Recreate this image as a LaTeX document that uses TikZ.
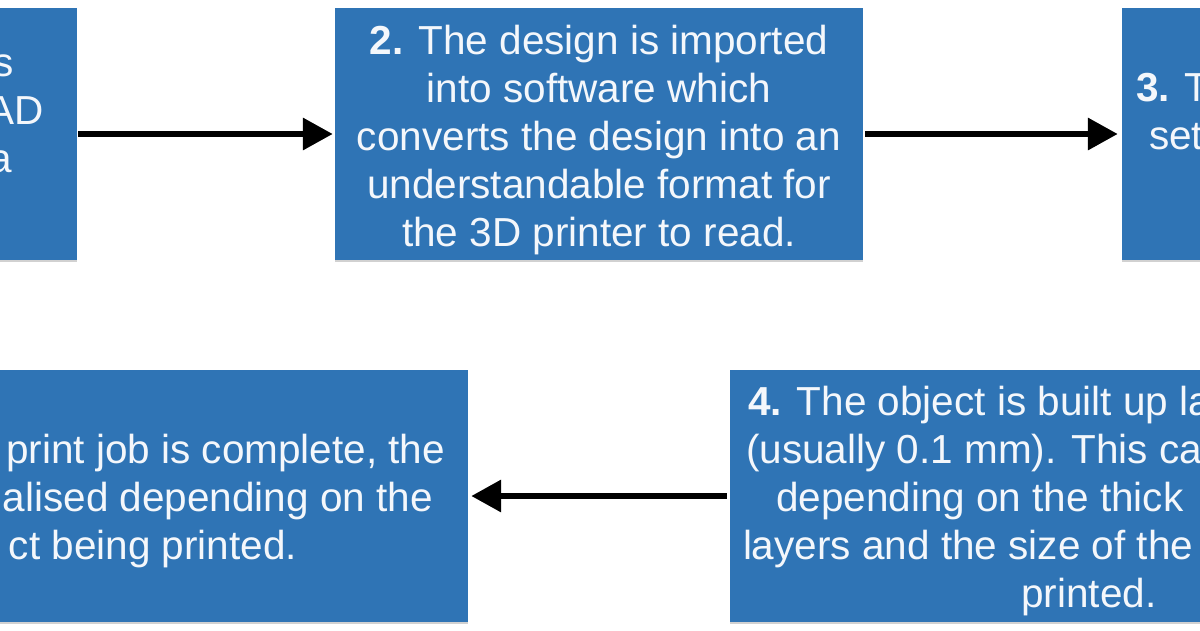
\documentclass[tikz,border=0pt]{standalone}
\usepackage{fontspec}
\setmainfont{Liberation Sans}
\usetikzlibrary{arrows.meta,shadows}
\definecolor{boxblue}{HTML}{2F74B5}
\definecolor{txtwhite}{HTML}{F4F7FB}
\newcommand{\slidefont}{\fontsize{40.5}{48}\selectfont}
\tikzset{
  box/.style={rectangle, fill=boxblue, draw=none, minimum width=528pt, minimum height=252pt, inner sep=0pt,
    drop shadow={shadow xshift=0pt, shadow yshift=-2pt, fill=black, opacity=0.18}},
  widebox/.style={box, minimum width=722pt},
  txt/.style={text=txtwhite, font=\slidefont, inner sep=0pt, outer sep=0pt},
  arr/.style={draw=black, line width=6.5pt, -{Triangle[length=30pt, width=31pt]}}
}
\begin{document}
\begin{tikzpicture}[x=1pt, y=-1pt]
\useasboundingbox (0,0) rectangle (1200,630);
\clip (0,0) rectangle (1200,630);
\fill[white] (0,0) rectangle (1200,630);
% boxes
\node[box] (b1) at (-187,134) {};
\node[box] (b2) at (599,134) {};
\node[box] (b3) at (1386,134) {};
\node[widebox] (b4) at (1091,496) {};
\node[widebox] (b5) at (107,496) {};
% arrows
\draw[arr, shorten <=1pt, shorten >=2pt] (b1.east) -- (b2.west);
\draw[arr, shorten <=2pt, shorten >=4pt] (b2.east) -- (b3.west);
\draw[arr, shorten <=3pt, shorten >=3pt] (b4.west) -- (b5.east);
% box 1 (cut at left edge)
\node[txt, anchor=base east] (t11) at (14,76) {s};
\node[txt, anchor=base east] (t12) at (44,124) {AD};
\node[txt, anchor=base east] (t13) at (12,172) {a};
% box 2
\node[txt, anchor=base] (t21) at (599,54) {\textbf{2.} The design is imported};
\node[txt, anchor=base] (t22) at (599,102) {into software which};
\node[txt, anchor=base] (t23) at (599,150) {converts the design into an};
\node[txt, anchor=base] (t24) at (599,198) {understandable format for};
\node[txt, anchor=base] (t25) at (599,246) {the 3D printer to read.};
% box 3 (cut at right edge)
\node[txt, anchor=base west] (t31) at (1136,101) {\textbf{3.} T};
\node[txt, anchor=base west] (t32) at (1149,149) {set};
% box 4 (cut at right edge)
\node[txt, anchor=base west] (t41) at (748,415) {\textbf{4.} The object is built up la};
\node[txt, anchor=base west] (t42) at (746,463) {(usually 0.1 mm). This ca};
\node[txt, anchor=base west] (t43) at (776,511) {depending on the thick};
\node[txt, anchor=base west] (t44) at (743,559) {layers and the size of the};
\node[txt, anchor=base] (t45) at (1089,607) {printed.};
% box 5 (cut at left edge)
\node[txt, anchor=base east] (t51) at (445,463) {print job is complete, the};
\node[txt, anchor=base east] (t52) at (433,511) {alised depending on the};
\node[txt, anchor=base east] (t53) at (297,559) {ct being printed.};
\end{tikzpicture}
\end{document}
